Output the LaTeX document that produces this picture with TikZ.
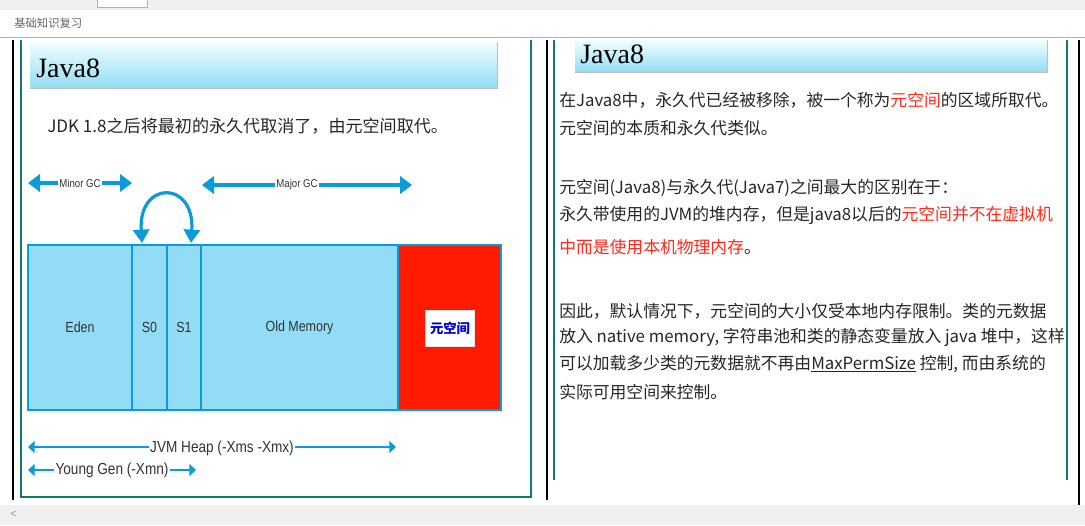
\documentclass[tikz,border=0pt]{standalone}
\usepackage{fontspec}
\setmainfont{Liberation Sans}
\newfontfamily\cjk{Noto Sans CJK SC}
\newfontfamily\serifj{Liberation Serif}
\usetikzlibrary{arrows.meta}
\definecolor{cy}{HTML}{0A9BDB}
\definecolor{fillc}{HTML}{93DCF5}
\definecolor{teal1}{HTML}{0F7A6E}
\definecolor{redc}{HTML}{FF1A00}
\definecolor{txtred}{HTML}{FF2A1A}
\tikzset{
 cell/.style={draw=cy,line width=1.5pt,fill=fillc,inner sep=0,anchor=north west},
 garrow/.style={cy,line width=2.4pt,{Triangle[width=13pt,length=9pt]}-{Triangle[width=13pt,length=9pt]}},
 sarrow/.style={cy,line width=1.6pt,{Triangle[width=9pt,length=5pt]}-{Triangle[width=9pt,length=5pt]}},
 lbl/.style={font=\fontsize{11}{13}\selectfont,text=black!80,inner sep=1pt,xscale=0.85},
 body/.style={anchor=west,inner sep=0,font=\cjk\fontsize{12.6}{16}\selectfont,text=black!85},
 titlebar/.style={top color=white!85!cyan!40,bottom color=fillc,draw=none,inner sep=0,anchor=north west}
}
\begin{document}
\begin{tikzpicture}[x=0.75pt,y=-0.75pt]
\useasboundingbox (0,0) rectangle (1085,525);
% window chrome
\fill[black!6] (0,0) rectangle (1085,10);
\node[draw=black!30,fill=white,minimum width=37.5pt,minimum height=7pt,inner sep=0,anchor=north west] (tab) at (97,-2) {};
\fill[white] (0,10) rectangle (1085,37);
\draw[black!30] (0,37) -- (1085,37);
\node[anchor=west,inner sep=0,font=\cjk\fontsize{8.5}{10}\selectfont,text=black!60] (wt) at (14,23) {基础知识复习};
\fill[black!6] (0,505) rectangle (1085,525);
\node[anchor=west,text=black!40,inner sep=0,font=\fontsize{8}{9}\selectfont] (sc) at (10,514) {<};
% left slide
\draw[black,line width=0.8pt] (13,40) -- (13,500);
\draw[teal1,line width=1.8pt] (21,40) -- (21,497) -- (531,497) -- (531,40);
\node[titlebar,minimum width=350pt,minimum height=34pt] (t1) at (30,42) {};
\draw[black!25] (t1.south west) -- (t1.south east) -- (t1.north east);
\node[anchor=west,inner sep=0,font=\serifj\fontsize{21}{24}\selectfont] (t1txt) at (36,68) {Java8};
\node[anchor=west,inner sep=0,font=\cjk\fontsize{12.8}{15}\selectfont,text=black!85] (jdk) at (47,126) {JDK 1.8之后将最初的永久代取消了，由元空间取代。};
% heap cells
\node[cell,minimum width=78pt,minimum height=124pt] (eden) at (27,244) {};
\node[cell,minimum width=26.25pt,minimum height=124pt] (s0) at (131,244) {};
\node[cell,minimum width=25.5pt,minimum height=124pt] (s1) at (166,244) {};
\node[cell,minimum width=147.75pt,minimum height=124pt] (old) at (200,244) {};
\node[cell,fill=redc,minimum width=77.25pt,minimum height=124pt] (meta) at (397,244) {};
\node[lbl] at (eden.center) {Eden};
\node[lbl] at (s0.center) {S0};
\node[lbl] at (s1.center) {S1};
\node[lbl] at (old.center) {Old Memory};
\node[fill=white,draw=black!10,minimum width=37pt,minimum height=27pt,inner sep=0,font=\cjk\bfseries\fontsize{10}{12}\selectfont,text=blue!85!black] (ms) at (450,328) {元空间};
% gc arrows
\coordinate (mg1) at (28,183); \coordinate (mg2) at (132,183);
\coordinate (jg1) at (202,185); \coordinate (jg2) at (412,185);
\draw[garrow] (mg1) -- (mg2);
\draw[garrow] (jg1) -- (jg2);
\node[lbl,fill=white,font=\fontsize{8.5}{10}\selectfont] (minor) at (80,183) {Minor GC};
\node[lbl,fill=white,font=\fontsize{8.5}{10}\selectfont] (major) at (297,185) {Major GC};
\coordinate (a0) at (142,243); \coordinate (a1) at (191,243);
\draw[cy,line width=2.4pt,{Triangle[width=12pt,length=10pt]}-{Triangle[width=12pt,length=10pt]}] (a0) .. controls (138,180) and (195,180) .. (a1);
% size arrows
\coordinate (h1) at (28,447); \coordinate (h2) at (396,447);
\coordinate (y1) at (28,470); \coordinate (y2) at (196,470);
\draw[sarrow] (h1) -- (h2);
\draw[sarrow] (y1) -- (y2);
\node[lbl,fill=white,font=\fontsize{12}{14}\selectfont] (heap) at (222,448) {JVM Heap (-Xms -Xmx)};
\node[lbl,fill=white,font=\fontsize{12}{14}\selectfont] (young) at (112,470) {Young Gen (-Xmn)};
% right slide
\draw[black,line width=0.8pt] (547,40) -- (547,500);
\draw[black,line width=0.8pt] (1079,40) -- (1079,505);
\draw[teal1,line width=1.8pt] (554,40) -- (554,480);
\draw[teal1,line width=1.8pt] (1067,40) -- (1067,480);
\node[titlebar,minimum width=354pt,minimum height=24pt] (t2) at (575,40) {};
\draw[black!25] (t2.south west) -- (t2.south east) -- (t2.north east);
\node[anchor=west,inner sep=0,font=\serifj\fontsize{21}{24}\selectfont] (t2txt) at (580,54) {Java8};
\node[body] (l1) at (559,100) {在Java8中，永久代已经被移除，被一个称为\textcolor{txtred}{元空间}的区域所取代。};
\node[body] (l2) at (559,128) {元空间的本质和永久代类似。};
\node[body] (l3) at (559,188) {元空间(Java8)与永久代(Java7)之间最大的区别在于：};
\node[body] (l4) at (559,215) {永久带使用的JVM的堆内存，但是java8以后的\textcolor{txtred}{元空间并不在虚拟机}};
\node[body,text=txtred] (l5) at (559,247) {中而是使用本机物理内存\textcolor{black!85}{。}};
\node[body] (l6) at (559,311) {因此，默认情况下，元空间的大小仅受本地内存限制。类的元数据};
\node[body] (l7) at (559,337) {放入 native memory, 字符串池和类的静态变量放入 java 堆中，这样};
\node[body] (l8) at (559,364) {可以加载多少类的元数据就不再由\underline{MaxPermSize} 控制, 而由系统的};
\node[body] (l9) at (559,392) {实际可用空间来控制。};
\end{tikzpicture}
\end{document}
